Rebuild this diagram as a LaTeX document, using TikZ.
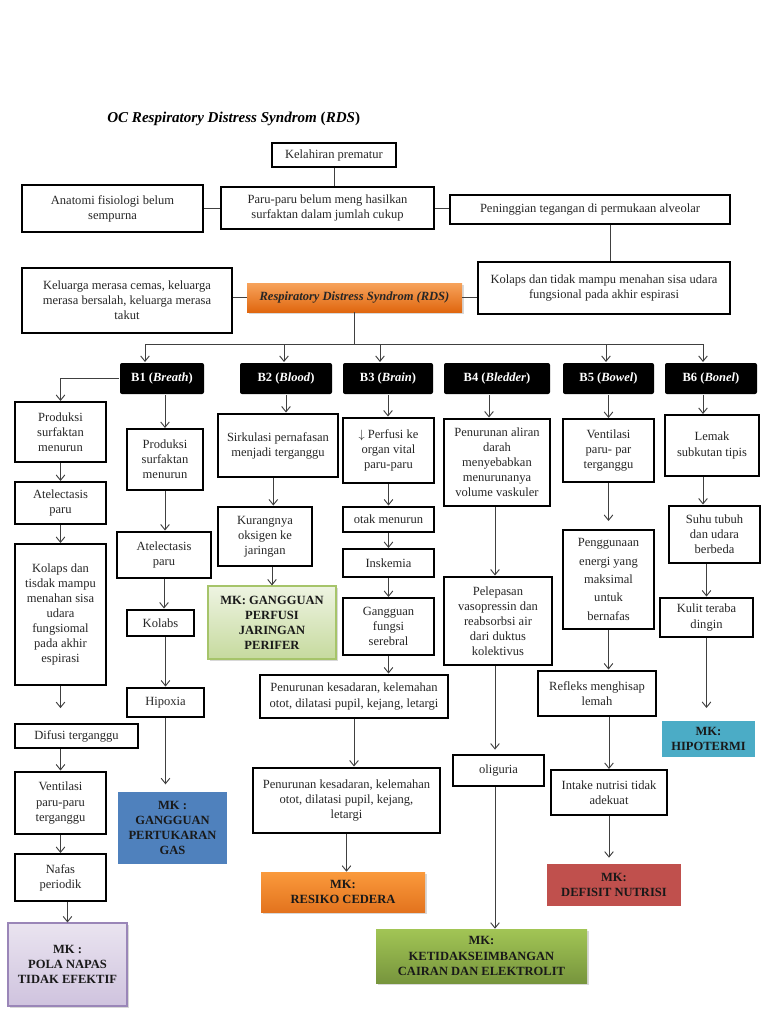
\documentclass[tikz,border=0pt]{standalone}
\usepackage{fontspec}
\setmainfont{Liberation Serif}
\usetikzlibrary{arrows.meta,shadows}
\definecolor{rdsTop}{HTML}{F7A35C}
\definecolor{rdsBot}{HTML}{E0670F}
\definecolor{lgTop}{HTML}{EEF4E2}
\definecolor{lgBot}{HTML}{C6DA9E}
\definecolor{lgLine}{HTML}{A6C46A}
\definecolor{puTop}{HTML}{EAE4F0}
\definecolor{puBot}{HTML}{CFC3DE}
\definecolor{puLine}{HTML}{9A86B8}
\definecolor{mkblue}{HTML}{4F81BD}
\definecolor{mkred}{HTML}{C0504D}
\definecolor{mkcyan}{HTML}{4BACC6}
\definecolor{orTop}{HTML}{FA9A3C}
\definecolor{orBot}{HTML}{E3731E}
\definecolor{grTop}{HTML}{A2C555}
\definecolor{grBot}{HTML}{77953D}
\newcommand\fs{\fontsize{9.4}{11.3}\selectfont}
\newcommand\anybox[8]{%
  \pgfmathsetmacro\bxw{(#6-#4)*0.75}%
  \pgfmathsetmacro\bxh{(#7-#5)*0.75}%
  \node[#1,#2,minimum width=\bxw pt,minimum height=\bxh pt] (#3) at ({(#4+#6)/2},{(#5+#7)/2}) {#8};}
\newcommand\mybox[7][]{\anybox{box}{#1}{#2}{#3}{#4}{#5}{#6}{#7}}
\newcommand\mkbox[7][]{\anybox{mk}{#1}{#2}{#3}{#4}{#5}{#6}{#7}}
\begin{document}
\begin{tikzpicture}[x=0.75pt,y=-0.75pt,
  box/.style={draw=black, line width=1.5pt, fill=white, inner sep=0pt, align=center, font=\fs, text=black!85},
  xbox/.style={line width=2.2pt},
  bbox/.style={draw=none, fill=black, rounded corners=1.5pt, text=white, font=\fs\bfseries},
  mk/.style={inner sep=0pt, align=center, font=\fs\bfseries, text=black!90, drop shadow={shadow xshift=1.2pt, shadow yshift=-1.2pt, opacity=0.3}},
  arr/.style={draw=black!75, line width=0.7pt, -{Straight Barb[length=4pt,width=6.5pt]}},
  ln/.style={draw=black!75, line width=0.7pt}]
\path[use as bounding box, fill=white] (0,0) rectangle (768,1024);

% title
\node[anchor=west, inner sep=0pt, font=\fontsize{11.3}{13}\selectfont\bfseries\itshape] (title) at (107,119) {OC Respiratory Distress Syndrom {\upshape(}RDS{\upshape)}};

% top part
\mybox[line width=1.2pt]{kel}{272}{143}{396}{167}{Kelahiran prematur}
\mybox{anat}{22}{185}{203}{232}{Anatomi fisiologi belum\\sempurna}
\mybox{paru}{221}{187}{434}{229}{Paru-paru belum meng hasilkan\\surfaktan dalam jumlah cukup}
\mybox[xbox]{pen}{450}{195}{730}{224}{Peninggian tegangan di permukaan alveolar}
\mybox[xbox]{kol}{478}{262}{730}{314}{Kolaps dan tidak mampu menahan sisa udara\\fungsional pada akhir espirasi}
\mybox[xbox]{kelu}{22}{268}{232}{333}{Keluarga merasa cemas, keluarga\\merasa bersalah, keluarga merasa\\takut}
\mkbox[top color=rdsTop, bottom color=rdsBot, font=\fs\bfseries\itshape, text=black!85]{rds}{247}{283}{462}{312}{Respiratory Distress Syndrom (RDS)}

% B boxes
\mybox[bbox]{b1}{120}{363}{204}{394}{B1 (\textit{Breath})}
\mybox[bbox]{b2}{240}{363}{332}{394}{B2 (\textit{Blood})}
\mybox[bbox]{b3}{343}{363}{433}{394}{B3 (\textit{Brain})}
\mybox[bbox]{b4}{444}{363}{550}{394}{B4 (\textit{Bledder})}
\mybox[bbox]{b5}{563}{363}{654}{394}{B5 (\textit{Bowel})}
\mybox[bbox]{b6}{665}{363}{757}{394}{B6 (\textit{Bonel})}

% column A (B1 left)
\mybox{a1}{15}{402}{106}{462}{Produksi\\surfaktan\\menurun}
\mybox{a2}{15}{482}{106}{524}{Atelectasis\\paru}
\mybox{a3}{15}{544}{106}{685}{Kolaps dan\\tisdak mampu\\menahan sisa\\udara\\fungsiomal\\pada akhir\\espirasi}
\mybox[line width=1.8pt]{a4}{15}{724}{138}{748}{Difusi terganggu}
\mybox[xbox]{a5}{15}{772}{106}{834}{Ventilasi\\paru-paru\\terganggu}
\mybox{a6}{15}{854}{106}{901}{Nafas\\periodik}
\mkbox[top color=puTop, bottom color=puBot, draw=puLine, line width=0.8pt]{pur}{8}{923}{127}{1006}{MK :\\POLA NAPAS\\TIDAK EFEKTIF}

% column B (B1 right)
\mybox{bb1}{127}{429}{203}{490}{Produksi\\surfaktan\\menurun}
\mybox[xbox]{bb2}{117}{532}{211}{578}{Atelectasis\\paru}
\mybox[xbox]{bb3}{127}{610}{194}{636}{Kolabs}
\mybox[xbox]{bb4}{127}{688}{204}{717}{Hipoxia}
\mkbox[fill=mkblue, draw=white, line width=2.5pt]{blue}{116}{790}{229}{866}{MK :\\GANGGUAN\\PERTUKARAN\\GAS}

% column C (B2)
\mybox[xbox]{c1}{218}{414}{338}{477}{Sirkulasi pernafasan\\menjadi terganggu}
\mybox[xbox]{c2}{218}{507}{312}{566}{Kurangnya\\oksigen ke\\jaringan}
\mkbox[top color=lgTop, bottom color=lgBot, draw=lgLine, line width=0.8pt]{gp}{208}{586}{336}{659}{MK: GANGGUAN\\PERFUSI\\JARINGAN\\PERIFER}

% column D (B3)
\mybox[xbox]{d1}{343}{418}{434}{483}{$\downarrow$ Perfusi ke\\organ vital\\paru-paru}
\mybox[xbox]{d2}{343}{507}{434}{532}{otak menurun}
\mybox{d3}{343}{549}{434}{577}{Inskemia}
\mybox{d4}{343}{598}{434}{655}{Gangguan\\fungsi\\serebral}
\mybox[xbox]{d5}{260}{675}{448}{718}{Penurunan kesadaran, kelemahan\\otot, dilatasi pupil, kejang, letargi}
\mybox[xbox]{d6}{253}{768}{440}{833}{Penurunan kesadaran, kelemahan\\otot, dilatasi pupil, kejang,\\letargi}
\mkbox[top color=orTop, bottom color=orBot]{oc}{261}{872}{425}{912}{MK:\\RESIKO CEDERA}

% column E (B4)
\mybox[xbox]{e1}{444}{419}{550}{506}{Penurunan aliran\\darah\\menyebabkan\\menurunanya\\volume vaskuler}
\mybox[xbox]{e2}{444}{577}{552}{665}{Pelepasan\\vasopressin dan\\reabsorbsi air\\dari duktus\\kolektivus}
\mybox[line width=2.1pt]{oli}{453}{755}{544}{786}{oliguria}
\mkbox[top color=grTop, bottom color=grBot]{gk}{376}{929}{587}{983}{MK:\\KETIDAKSEIMBANGAN\\CAIRAN DAN ELEKTROLIT}

% column F (B5)
\mybox{f1}{563}{419}{654}{482}{Ventilasi\\paru- par\\terganggu}
\mybox[font=\fontsize{9.4}{13.8}\selectfont]{f2}{563}{530}{654}{629}{Penggunaan\\energi yang\\maksimal\\untuk\\bernafas}
\mybox[xbox]{f3}{538}{671}{656}{716}{Refleks menghisap\\lemah}
\mybox{f4}{551}{770}{667}{815}{Intake nutrisi tidak\\adekuat}
\mkbox[fill=mkred, draw=white, line width=2.5pt]{red}{545}{862}{683}{908}{MK:\\DEFISIT NUTRISI}

% column G (B6)
\mybox{g1}{665}{415}{759}{476}{Lemak\\subkutan tipis}
\mybox[xbox]{g2}{669}{506}{760}{563}{Suhu tubuh\\dan udara\\berbeda}
\mybox[xbox]{g3}{660}{598}{753}{637}{Kulit teraba\\dingin}
\mkbox[fill=mkcyan, draw=white, line width=2.5pt]{cy}{660}{719}{757}{759}{MK:\\HIPOTERMI}

% connectors top
\draw[ln] (kel.south) -- (kel.south |- paru.north);
\draw[ln] (anat.east |- paru.west) -- (paru.west);
\draw[ln] (paru.east) -- (paru.east -| pen.west);
\draw[ln] ([xshift=5pt]kol.north |- pen.south) -- ([xshift=5pt]kol.north);
\draw[ln] (kelu.east |- rds.west) -- (rds.west);
\draw[ln] (rds.east) -- (rds.east -| kol.west);

\coordinate (t1) at (145,344);
\coordinate (t2) at (284,344);
\coordinate (t3) at (380,344);
\coordinate (t5) at (606,344);
\coordinate (t6) at (703,344);
\coordinate (ex) at (495,0);
\draw[ln] (rds.south) -- (rds.south |- t1);
\draw[ln] (t1) -- (t6);
\foreach \i in {1,2,3,5,6} \draw[arr] (t\i) -- (t\i |- b\i.north);

% B1
\draw[arr] (b1.west) -| (a1.north);
\draw[arr] (a1.south) -- (a2.north);
\draw[arr] (a2.south) -- (a3.north);
\draw[arr, shorten >=11pt] (a3.south) -- (a3.south |- a4.north);
\draw[arr] (a5.north |- a4.south) -- (a5.north);
\draw[arr] (a5.south) -- (a6.north);
\draw[arr] (pur.north |- a6.south) -- (pur.north);
\draw[arr] (b1.south -| bb1.north) -- (bb1.north);
\draw[arr] (bb1.south) -- (bb1.south |- bb2.north);
\draw[arr] (bb2.south) -- (bb2.south |- bb3.north);
\draw[arr] (bb4.north |- bb3.south) -- (bb4.north);
\draw[arr, shorten >=3pt] (bb4.south) -- (bb4.south |- blue.north);

% B2
\draw[arr] (b2.south) -- (b2.south |- c1.north);
\draw[arr] ([xshift=-3.5pt]c1.south) -- ([xshift=-3.5pt]c1.south |- c2.north);
\draw[arr] (gp.north |- c2.south) -- (gp.north);

% B3
\draw[arr] (b3.south) -- (b3.south |- d1.north);
\draw[arr] (d1.south) -- (d2.north);
\draw[arr] (d2.south) -- (d3.north);
\draw[arr] (d3.south) -- (d4.north);
\draw[arr] (d4.south) -- (d4.south |- d5.north);
\draw[arr] (d5.south) -- (d5.south |- d6.north);
\draw[arr] (d6.south) -- (d6.south |- oc.north);

% B4
\draw[arr] ([xshift=-6pt]b4.south) -- ([xshift=-6pt]b4.south |- e1.north);
\draw[arr] (e1.south -| ex) -- (e2.north -| ex);
\draw[arr, shorten >=3pt] (e2.south -| ex) -- (oli.north -| ex);
\draw[arr] (oli.south -| ex) -- (gk.north -| ex);

% B5
\draw[arr] (b5.south) -- (b5.south |- f1.north);
\draw[arr, shorten >=6pt] (f1.south) -- (f1.south |- f2.north);
\draw[arr] (f2.south) -- (f2.south |- f3.north);
\draw[arr] (f4.north |- f3.south) -- (f4.north);
\draw[arr, shorten >=2pt] (f4.south) -- (f4.south |- red.north);

% B6
\draw[arr] (t6 |- b6.south) -- (t6 |- g1.north);
\draw[arr] (t6 |- g1.south) -- (t6 |- g2.north);
\draw[arr] (g3.north |- g2.south) -- (g3.north);
\draw[arr, shorten >=7pt] (g3.south) -- (g3.south |- cy.north);
\end{tikzpicture}
\end{document}
